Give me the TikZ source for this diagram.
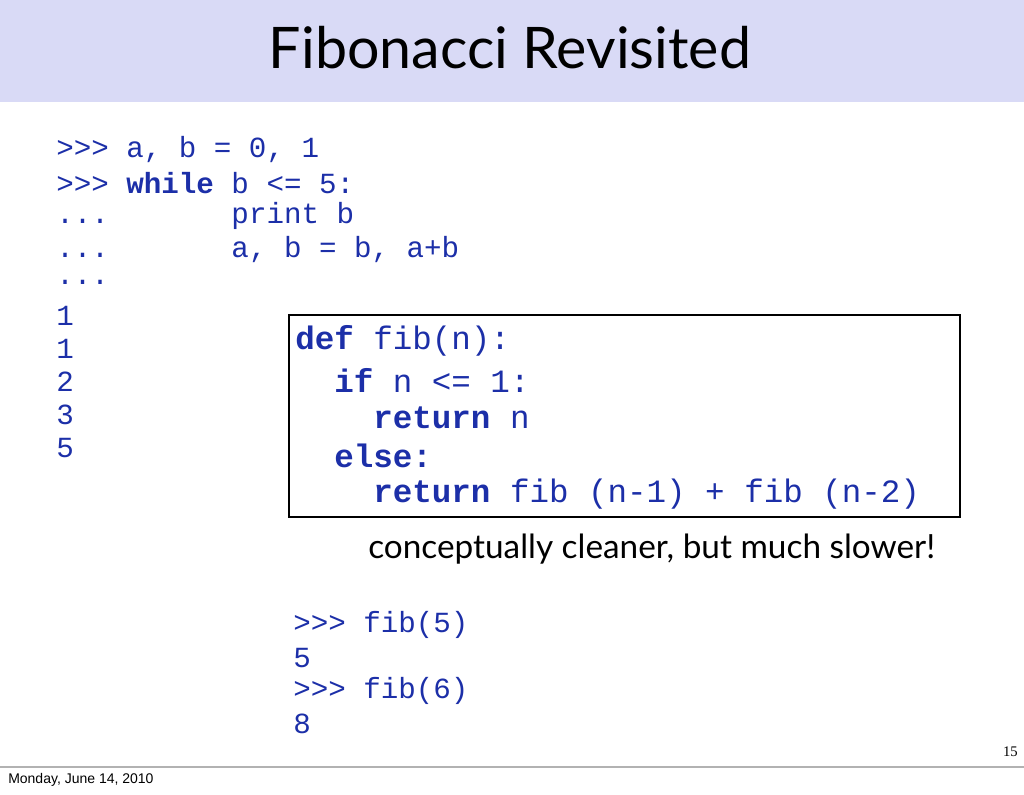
\documentclass[tikz,border=0pt]{standalone}
\usepackage{fontspec}
\setmainfont{Lato}
\newfontfamily\codefont{Liberation Mono}
\newfontfamily\footfont{Liberation Sans}
\newfontfamily\numfont{Liberation Serif}
\definecolor{band}{HTML}{D9DAF6}
\definecolor{codeblue}{HTML}{1C2FA8}
\begin{document}
\begin{tikzpicture}[x=0.75pt,y=-0.75pt,
  code/.style={anchor=west,inner sep=0pt,text=codeblue,font=\codefont\fontsize{21.9}{24}\selectfont},
  bigcode/.style={anchor=west,inner sep=0pt,text=codeblue,font=\codefont\fontsize{24.4}{26}\selectfont},
  note/.style={anchor=west,inner sep=0pt,font=\fontsize{25}{28}\selectfont}]
\useasboundingbox (0,0) rectangle (1024,794);
\fill[band] (0,0) rectangle (1024,102);
\node[inner sep=0pt,font=\fontsize{43}{48}\selectfont] (title) at (510,48) {Fibonacci Revisited};
\node[code] (l1) at (56,150) {>>> a, b = 0, 1};
\node[code] (l2) at (56,183) {>>> \textbf{while} b <= 5:};
\node[code] (l3) at (56,216) {...~~~~~~~print b};
\node[code] (l4) at (56,249) {...~~~~~~~a, b = b, a+b};
\node[code] (l5) at (56,282) {...};
\node[code] (o1) at (56,316) {1};
\node[code] (o2) at (56,349) {1};
\node[code] (o3) at (56,382) {2};
\node[code] (o4) at (56,415) {3};
\node[code] (o5) at (56,448) {5};
\draw[line width=0.8pt] (289,315) rectangle (960,517);
\node[bigcode] (d1) at (295,341) {\textbf{def} fib(n):};
\node[bigcode] (d2) at (295,380) {~~\textbf{if} n <= 1:};
\node[bigcode] (d3) at (295,418) {~~~~\textbf{return} n};
\node[bigcode] (d4) at (295,456) {~~\textbf{else:}};
\node[bigcode] (d5) at (295,494) {~~~~\textbf{return} fib (n-1) + fib (n-2)};
\node[note] (n) at (368,549) {conceptually cleaner, but much slower!};
\node[code] (f1) at (293,625) {>>> fib(5)};
\node[code] (f2) at (293,658) {5};
\node[code] (f3) at (293,691) {>>> fib(6)};
\node[code] (f4) at (293,724) {8};
\draw[gray!60,line width=0.8pt] (0,767) -- (1024,767);
\node[anchor=east,inner sep=0pt,font=\numfont\fontsize{11}{13}\selectfont] (pg) at (1018,752) {15};
\node[anchor=west,inner sep=0pt,font=\footfont\fontsize{10.5}{12}\selectfont] (dt) at (8,780) {Monday, June 14, 2010};
\end{tikzpicture}
\end{document}
